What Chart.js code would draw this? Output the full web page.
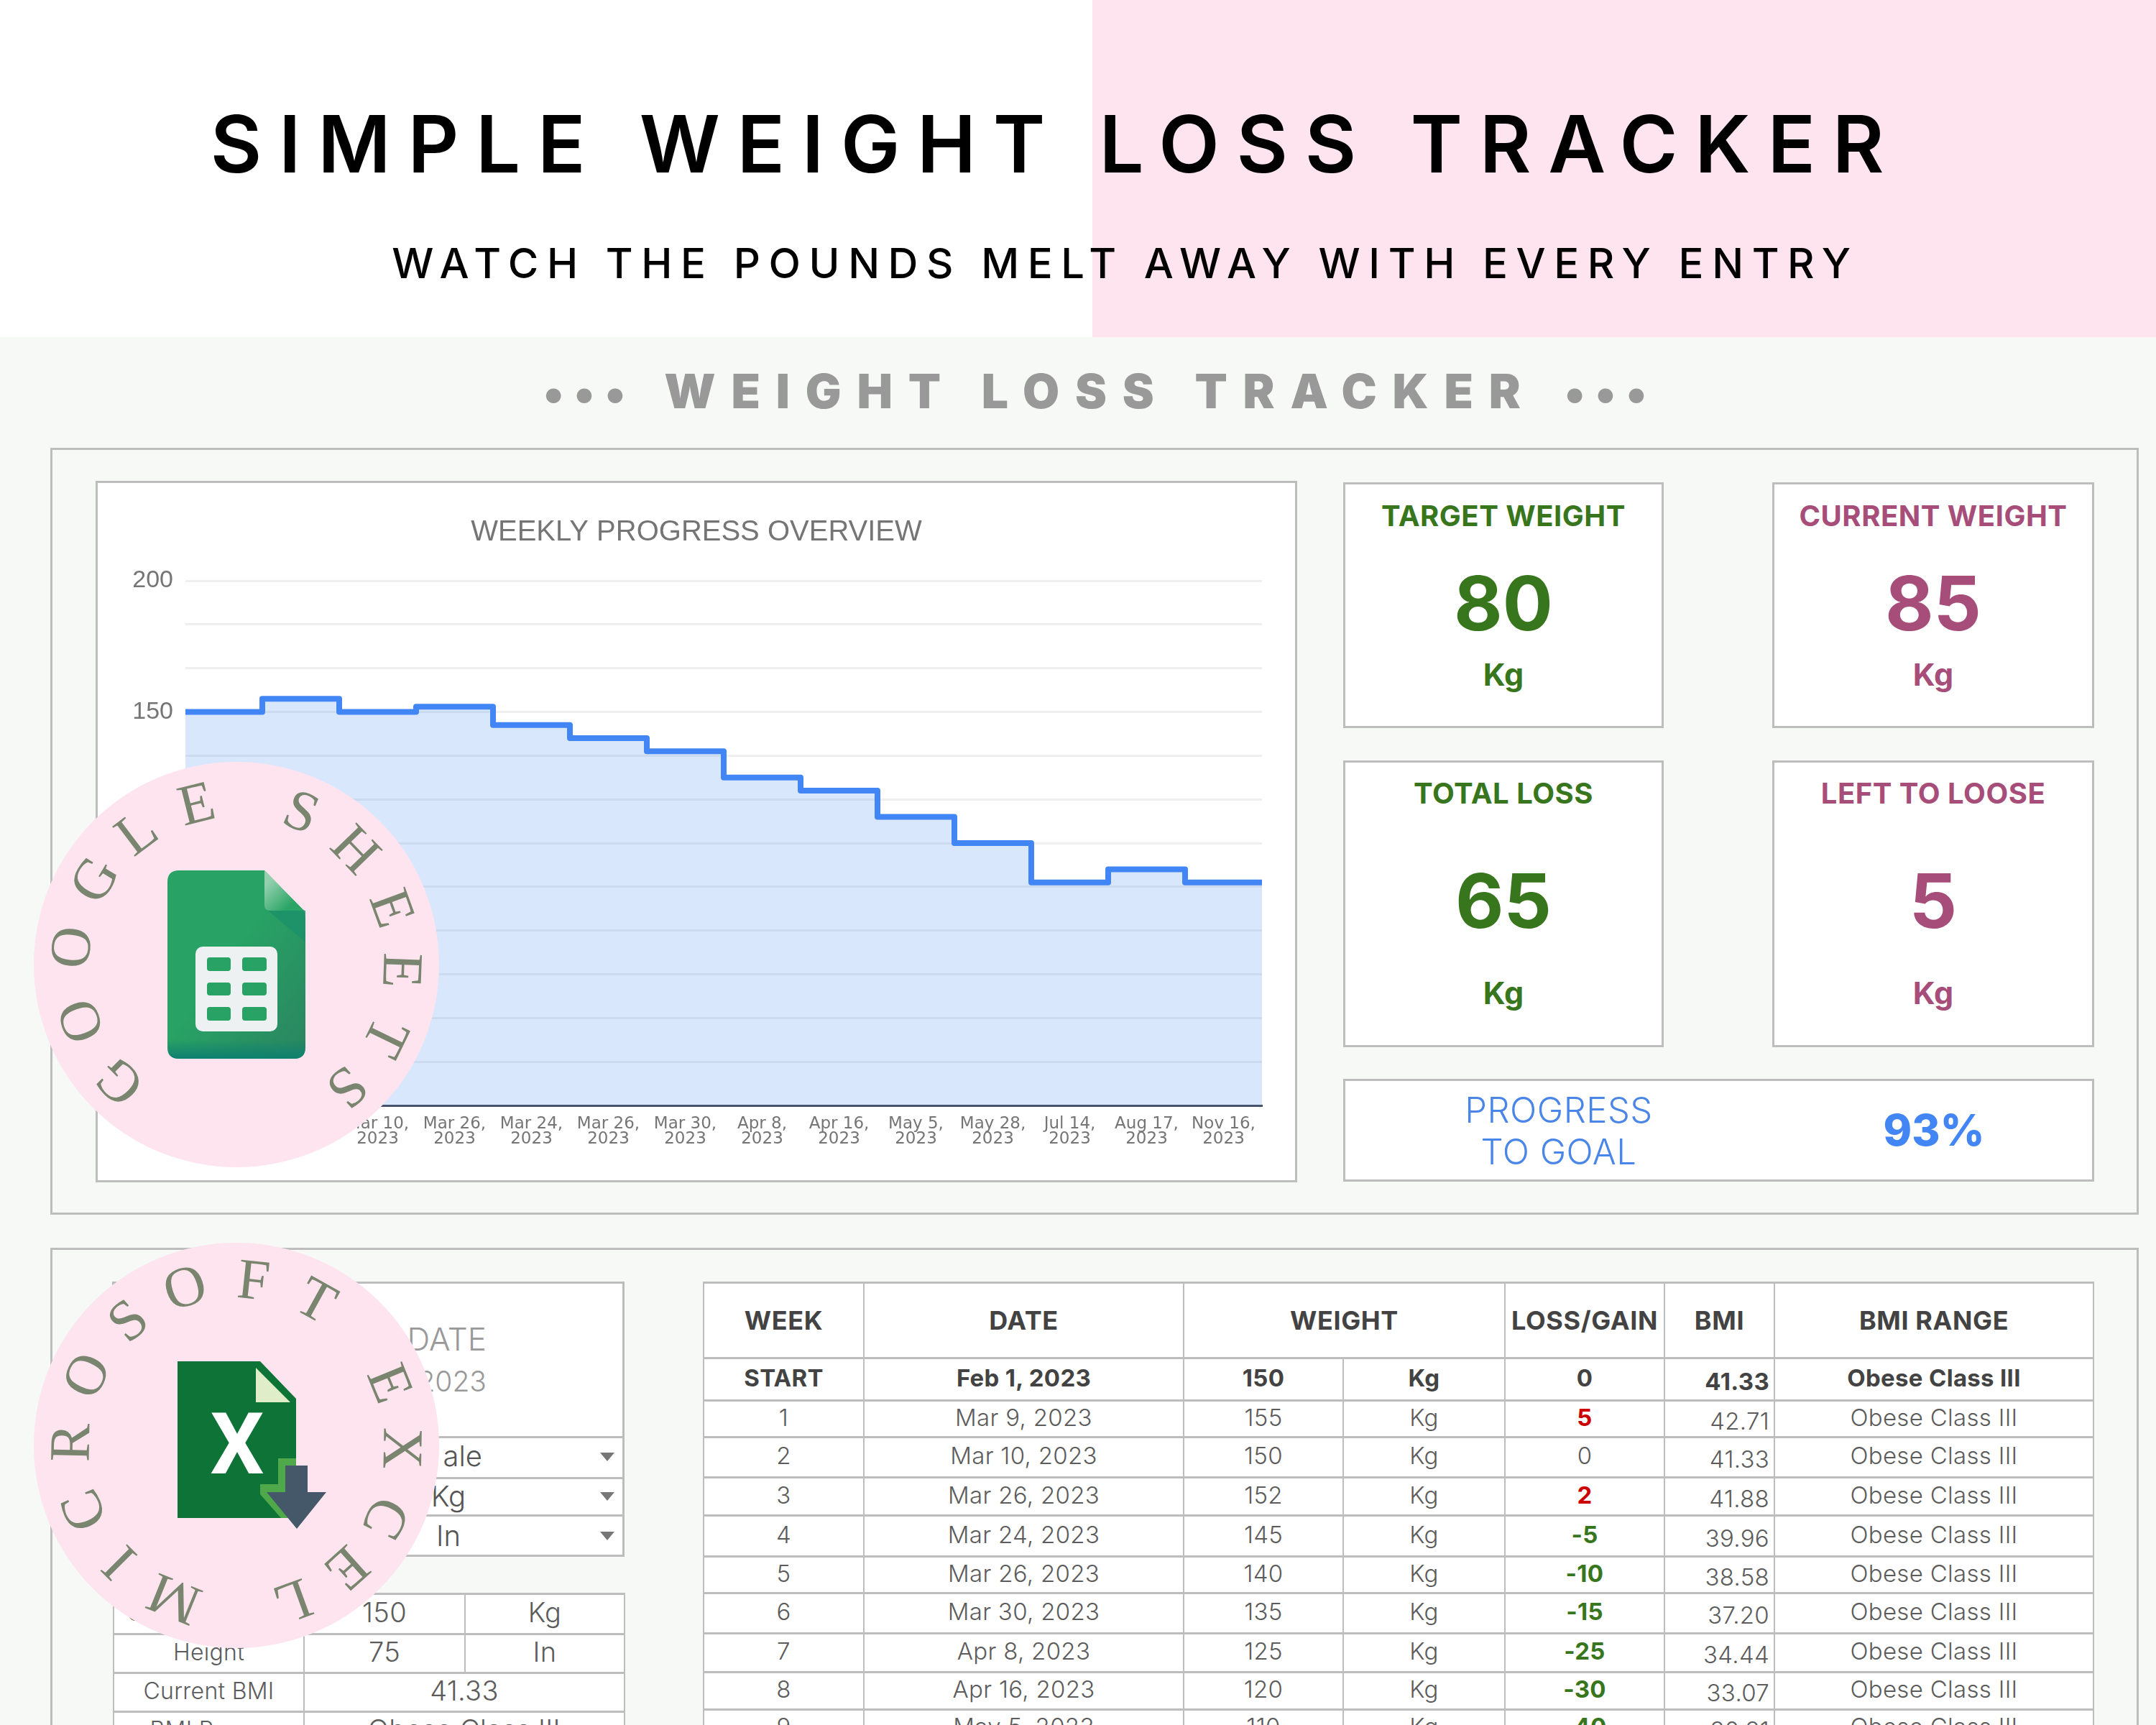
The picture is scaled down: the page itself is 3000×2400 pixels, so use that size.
<!DOCTYPE html>
<html lang="en">
<head>
    <meta charset="UTF-8">
    <title>Simple Weight Loss Tracker</title>
    <script src="https://cdn.jsdelivr.net/npm/chart.js"></script>
    <style>
        html, body { margin: 0; padding: 0; }
        body {
            position: relative;
            width: 3000px;
            height: 2400px;
            overflow: hidden;
            background: #f7f9f6;
            font-family: Inter, sans-serif;
        }
        .box { position: absolute; box-sizing: border-box; border: 3px solid #bdbdbd; background: #fff; }
        .fill { position: absolute; }
        .t { position: absolute; white-space: nowrap; transform: translate(-50%, -50%); line-height: 1; }
        .r { position: absolute; white-space: nowrap; transform: translate(-100%, -50%); line-height: 1; }
        .green { color: #38761d; }
        .mauve { color: #a64d79; }
        .label { font-size: 40px; font-weight: 700; letter-spacing: 0.5px; }
        .num { font-size: 104px; font-weight: 700; }
        .unit { font-size: 43px; font-weight: 700; }
        .soft { font-size: 49px; font-weight: 300; letter-spacing: 0.5px; color: #4a86e8; }
        #chartPanel canvas { position: absolute; left: -2px; top: -2px; }
        table { position: absolute; border-collapse: collapse; table-layout: fixed; background: #fff; }
        td { border: 2px solid #bdbdbd; padding: 0 0 5px 0; text-align: center; font-size: 33px; font-weight: 300; letter-spacing: 0.3px; color: #5c5c5c; }
        tr { border-top: 3px solid #bdbdbd; border-bottom: 3px solid #bdbdbd; }
        td.strong { font-weight: 700; color: #434343; }
        td.head { font-size: 36px; font-weight: 700; letter-spacing: 0.6px; color: #434343; padding-bottom: 0; }
        td.bmi { text-align: right; padding: 5px 6px 0 0; }
        td.up { font-weight: 700; color: #cc0000; }
        td.down { font-weight: 700; color: #38761d; }
        td.big { font-size: 38px; }
        td.small { font-size: 32px; }
        .badge { position: absolute; width: 564px; height: 564px; border-radius: 50%; background: #fde4ee; }
        .letter {
            position: absolute;
            font-family: "Liberation Serif", serif;
            font-size: 80px;
            line-height: 1;
            color: #7a8570;
            white-space: nowrap;
        }
        .tri { position: absolute; width: 0; height: 0; border-left: 10px solid transparent; border-right: 10px solid transparent; border-top: 12px solid #777; }
    </style>
</head>
<body>
    <div class="fill" style="left:1520px;top:0;width:1480px;height:469px;background:#fde4ee"></div>
    <div class="fill" style="left:0;top:0;width:1520px;height:469px;background:#fff"></div>

    <div class="t" style="left:1469px;top:200px;font-size:110px;font-weight:600;letter-spacing:23.7px;color:#000">SIMPLE WEIGHT LOSS TRACKER</div>
    <div class="t" style="left:1566px;top:366px;font-size:58px;font-weight:500;letter-spacing:11.6px;color:#000">WATCH THE POUNDS MELT AWAY WITH EVERY ENTRY</div>
    <div class="t" style="left:820px;top:546px;font-size:66px;font-weight:800;letter-spacing:14px;color:#999">•••</div>
    <div class="t" style="left:1531px;top:544px;font-size:66px;font-weight:900;letter-spacing:21.8px;color:#999">WEIGHT LOSS TRACKER</div>
    <div class="t" style="left:2241px;top:546px;font-size:66px;font-weight:800;letter-spacing:14px;color:#999">•••</div>

    <div class="box" style="left:70px;top:623px;width:2906px;height:1067px;background:none"></div>
    <div class="box" style="left:70px;top:1736px;width:2906px;height:700px;background:none"></div>

    <div class="box" id="chartPanel" style="left:133px;top:669px;width:1672px;height:976px">
        <canvas id="weightChart" width="1670" height="974"></canvas>
    </div>

    <div class="box" style="left:1869px;top:671px;width:446px;height:342px"></div>
    <div class="box" style="left:2466px;top:671px;width:448px;height:342px"></div>
    <div class="box" style="left:1869px;top:1058px;width:446px;height:399px"></div>
    <div class="box" style="left:2466px;top:1058px;width:448px;height:399px"></div>
    <div class="box" style="left:1869px;top:1501px;width:1045px;height:143px"></div>

    <div class="t label green" style="left:2092px;top:718px">TARGET WEIGHT</div>
    <div class="t num green" style="left:2092px;top:839px">80</div>
    <div class="t unit green" style="left:2092px;top:938px">Kg</div>
    <div class="t label mauve" style="left:2690px;top:718px">CURRENT WEIGHT</div>
    <div class="t num mauve" style="left:2690px;top:839px">85</div>
    <div class="t unit mauve" style="left:2690px;top:938px">Kg</div>
    <div class="t label green" style="left:2092px;top:1104px">TOTAL LOSS</div>
    <div class="t num green" style="left:2092px;top:1253px">65</div>
    <div class="t unit green" style="left:2092px;top:1381px">Kg</div>
    <div class="t label mauve" style="left:2690px;top:1104px">LEFT TO LOOSE</div>
    <div class="t num mauve" style="left:2690px;top:1253px">5</div>
    <div class="t unit mauve" style="left:2690px;top:1381px">Kg</div>
    <div class="t soft" style="left:2169px;top:1544px">PROGRESS</div>
    <div class="t soft" style="left:2169px;top:1602px">TO GOAL</div>
    <div class="t" style="left:2691px;top:1572px;font-size:60px;font-weight:800;color:#4285f4">93%</div>

    <div class="box" style="left:156px;top:1783px;width:713px;height:383px"></div>
    <div class="r" style="left:677px;top:1863px;font-size:44px;font-weight:300;color:#999">START DATE</div>
    <div class="r" style="left:677px;top:1921px;font-size:39px;font-weight:300;color:#999">Feb 1, 2023</div>
    <div class="fill" style="left:156px;top:1998px;width:713px;height:3px;background:#bdbdbd"></div>
    <div class="fill" style="left:156px;top:2055px;width:713px;height:3px;background:#bdbdbd"></div>
    <div class="fill" style="left:156px;top:2107px;width:713px;height:3px;background:#bdbdbd"></div>
    <div class="r" style="left:671px;top:2026px;font-size:40px;font-weight:300;color:#555"><span style="letter-spacing:8px">M</span>ale</div>
    <div class="t" style="left:624px;top:2082px;font-size:40px;font-weight:300;color:#555">Kg</div>
    <div class="t" style="left:624px;top:2137px;font-size:40px;font-weight:300;color:#555">In</div>
    <div class="tri" style="left:835px;top:2021px"></div>
    <div class="tri" style="left:835px;top:2076px"></div>
    <div class="tri" style="left:835px;top:2131px"></div>

    <table id="profileTable" style="left:157px;top:2216px;width:711px"></table>
    <table id="logTable" style="left:978px;top:1783px;width:1934px"></table>

    <div class="badge" id="sheetsBadge" style="left:47px;top:1060px"></div>
    <svg class="fill" style="left:233px;top:1211px" width="192" height="262" viewBox="0 0 192 262">
        <defs>
            <linearGradient id="sheetGrad" x1="0" y1="0" x2="1" y2="1">
                <stop offset="0.45" stop-color="#28a265"/>
                <stop offset="1" stop-color="#2a8460"/>
            </linearGradient>
            <linearGradient id="sheetBottom" x1="0" y1="0" x2="0" y2="1">
                <stop offset="0" stop-color="#0d8070" stop-opacity="0"/>
                <stop offset="1" stop-color="#0d8070"/>
            </linearGradient>
            <linearGradient id="foldGrad" x1="0" y1="0" x2="1" y2="1">
                <stop offset="0.2" stop-color="#93d0ae"/>
                <stop offset="0.75" stop-color="#2ba566"/>
            </linearGradient>
        </defs>
        <path d="M16 0H135L186 52Q192 58 192 66V246Q192 262 176 262H16Q0 262 0 246V16Q0 0 16 0Z" fill="url(#sheetGrad)"/>
        <path d="M0 236H192V246Q192 262 176 262H16Q0 262 0 246Z" fill="url(#sheetBottom)"/>
        <path d="M140 56H192V100Z" fill="#1c9169" opacity="0.85"/>
        <path d="M135 0L186 52Q190 56 192 56H143Q135 56 135 48Z" fill="url(#foldGrad)"/>
        <rect x="39" y="106" width="114" height="118" rx="10" fill="#eef1f2"/>
        <rect x="55" y="121" width="33" height="19" rx="4" fill="#28a265"/>
        <rect x="104" y="121" width="34" height="19" rx="4" fill="#28a265"/>
        <rect x="55" y="156" width="33" height="18" rx="4" fill="#28a265"/>
        <rect x="104" y="156" width="34" height="18" rx="4" fill="#28a265"/>
        <rect x="55" y="190" width="33" height="19" rx="4" fill="#28a265"/>
        <rect x="104" y="190" width="34" height="19" rx="4" fill="#28a265"/>
    </svg>

    <div class="badge" id="excelBadge" style="left:47px;top:1729px"></div>
    <svg class="fill" style="left:247px;top:1894px" width="210" height="236" viewBox="0 0 210 236">
        <path d="M0 0H115L165 52V218H0Z" fill="#0d7337"/>
        <path d="M109 9L157 57H109Z" fill="#dfedc9"/>
        <path d="M140 135H165V218H144L115 185V171H140Z" fill="#4fa84a"/>
        <path d="M150 145H181V182H207L166 233L124 182H150Z" fill="#44586a"/>
        <text x="83" y="156" text-anchor="middle" font-family="Roboto, sans-serif" font-weight="700" font-size="118" fill="#fff">X</text>
    </svg>

    <script>
        // weekly log, read from the sheet
        const weeks = ['START', '1', '2', '3', '4', '5', '6', '7', '8', '9'];
        const dates = ['Feb 1, 2023', 'Mar 9, 2023', 'Mar 10, 2023', 'Mar 26, 2023', 'Mar 24, 2023', 'Mar 26, 2023',
            'Mar 30, 2023', 'Apr 8, 2023', 'Apr 16, 2023', 'May 5, 2023'];
        const lossGain = [0, 5, 0, 2, -5, -10, -15, -25, -30, -40];
        const bmi = ['41.33', '42.71', '41.33', '41.88', '39.96', '38.58', '37.20', '34.44', '33.07', '30.31'];
        const weights = [150, 155, 150, 152, 145, 140, 135, 125, 120, 110];

        // chart series (goes on past the rows the picture shows)
        const chartDates = [['Feb 1,', '2023'], ['Mar 9,', '2023'], ['Mar 10,', '2023'], ['Mar 26,', '2023'],
            ['Mar 24,', '2023'], ['Mar 26,', '2023'], ['Mar 30,', '2023'], ['Apr 8,', '2023'], ['Apr 16,', '2023'],
            ['May 5,', '2023'], ['May 28,', '2023'], ['Jul 14,', '2023'], ['Aug 17,', '2023'], ['Nov 16,', '2023']];
        const chartWeights = [150, 155, 150, 152, 145, 140, 135, 125, 120, 110, 100, 85, 90, 85];

        const yMax = 200;
        const yMajorStep = 50;
        const yGridPerMajor = 3;

        // each week is a full band, so the steps run edge to edge
        const stepPoints = chartWeights.map((w, i) => ({ x: i, y: w }));
        stepPoints.push({ x: chartWeights.length, y: chartWeights[chartWeights.length - 1] });

        new Chart(document.getElementById('weightChart'), {
            type: 'line',
            data: {
                datasets: [{
                    data: stepPoints,
                    stepped: true,
                    fill: 'origin',
                    borderColor: '#4285f4',
                    backgroundColor: 'rgba(66, 133, 244, 0.2)',
                    borderWidth: 8,
                    borderJoinStyle: 'round',
                    pointRadius: 0
                }]
            },
            options: {
                responsive: false,
                animation: false,
                layout: { padding: { bottom: 16, left: 48, right: 48 } },
                plugins: {
                    legend: { display: false },
                    tooltip: { enabled: false },
                    title: {
                        display: true,
                        text: 'WEEKLY PROGRESS OVERVIEW',
                        color: '#757575',
                        font: { family: 'Liberation Sans', size: 40, weight: 'normal' },
                        padding: { top: 47, bottom: 43 }
                    }
                },
                scales: {
                    x: {
                        type: 'linear',
                        min: 0,
                        max: chartWeights.length,
                        grid: { display: false },
                        border: { color: '#44505f', width: 3 },
                        afterBuildTicks(axis) {
                            axis.ticks = chartDates.map((d, i) => ({ value: i + 0.5 }));
                        },
                        afterFit(axis) { axis.height = 90; },
                        ticks: {
                            autoSkip: false,
                            maxRotation: 0,
                            padding: 7,
                            color: '#757575',
                            font: { family: 'DejaVu Sans', size: 23, lineHeight: 0.92 },
                            callback: value => chartDates[Math.floor(value)]
                        }
                    },
                    y: {
                        min: 0,
                        max: yMax,
                        border: { display: false },
                        grid: { color: '#efefef', lineWidth: 3, drawTicks: false },
                        afterBuildTicks(axis) {
                            const count = yMax / yMajorStep * yGridPerMajor;
                            axis.ticks = Array.from({ length: count + 1 }, (_, i) => ({ value: i * yMajorStep / yGridPerMajor }));
                        },
                        afterFit(axis) { axis.width = 76; },
                        ticks: {
                            autoSkip: false,
                            padding: 17,
                            color: '#757575',
                            font: { family: 'Liberation Sans', size: 34 },
                            callback: value => value % yMajorStep === 0 ? value : ''
                        }
                    }
                }
            }
        });

        // log table
        const logColumns = [223, 445, 222, 225, 222, 153, 444];
        const logHeights = [105, 59, 51, 56, 53, 57, 51, 56, 54, 52];
        const logTable = document.getElementById('logTable');
        let logHtml = '<colgroup>' + logColumns.map(w => `<col style="width:${w}px">`).join('') + '</colgroup>';
        logHtml += `<tr style="height:${logHeights[0]}px">` +
            ['WEEK', 'DATE'].map(h => `<td class="head">${h}</td>`).join('') +
            '<td class="head" colspan="2">WEIGHT</td>' +
            ['LOSS/GAIN', 'BMI', 'BMI RANGE'].map(h => `<td class="head">${h}</td>`).join('') + '</tr>';
        weeks.forEach((week, i) => {
            const s = i === 0 ? 'strong' : '';
            const change = lossGain[i] > 0 ? 'up' : lossGain[i] < 0 ? 'down' : s;
            logHtml += `<tr style="height:${logHeights[i + 1] || 52}px">` +
                `<td class="${s}">${week}</td><td class="${s}">${dates[i]}</td><td class="${s}">${weights[i]}</td>` +
                `<td class="${s}">Kg</td><td class="${change}">${lossGain[i]}</td>` +
                `<td class="bmi ${s}">${bmi[i]}</td><td class="${s}">Obese Class III</td></tr>`;
        });
        logTable.innerHTML = logHtml;

        // profile table
        const profileColumns = [265, 224, 222];
        const profileRows = [['Current Weight', '150', 'Kg'], ['Height', '75', 'In'], ['Current BMI', '41.33'], ['BMI Range', 'Obese Class III']];
        const profileHeights = [56, 53, 53, 53];
        document.getElementById('profileTable').innerHTML =
            '<colgroup>' + profileColumns.map(w => `<col style="width:${w}px">`).join('') + '</colgroup>' +
            profileRows.map((row, i) => `<tr style="height:${profileHeights[i]}px"><td class="small">${row[0]}</td>` +
                (row.length === 3 ? `<td class="big">${row[1]}</td><td class="big">${row[2]}</td>` : `<td class="big" colspan="2">${row[1]}</td>`) + '</tr>').join('');

        // curved badge lettering, angle in degrees clockwise from the top
        const sheetsLetters = 'GOOGLESHEETS'.split('');
        const sheetsAngles = [-135, -110, -84, -59, -37, -14, 23, 46, 70, 92, 116, 138];
        const excelLetters = 'MICROSOFTEXCEL'.split('');
        const excelAngles = [-158, -135, -113, -89, -65, -41, -18, 6, 29, 68, 91, 116, 138, 160];
        const badgeRadius = 232;

        function placeLetters(badgeId, letters, angles) {
            const badge = document.getElementById(badgeId);
            letters.forEach((ch, i) => {
                const span = document.createElement('span');
                span.className = 'letter';
                span.textContent = ch;
                const a = angles[i] * Math.PI / 180;
                span.style.left = (282 + badgeRadius * Math.sin(a)) + 'px';
                span.style.top = (282 - badgeRadius * Math.cos(a)) + 'px';
                span.style.transform = `translate(-50%, -50%) rotate(${angles[i]}deg)`;
                badge.appendChild(span);
            });
        }
        placeLetters('sheetsBadge', sheetsLetters, sheetsAngles);
        placeLetters('excelBadge', excelLetters, excelAngles);
    </script>
</body>
</html>
